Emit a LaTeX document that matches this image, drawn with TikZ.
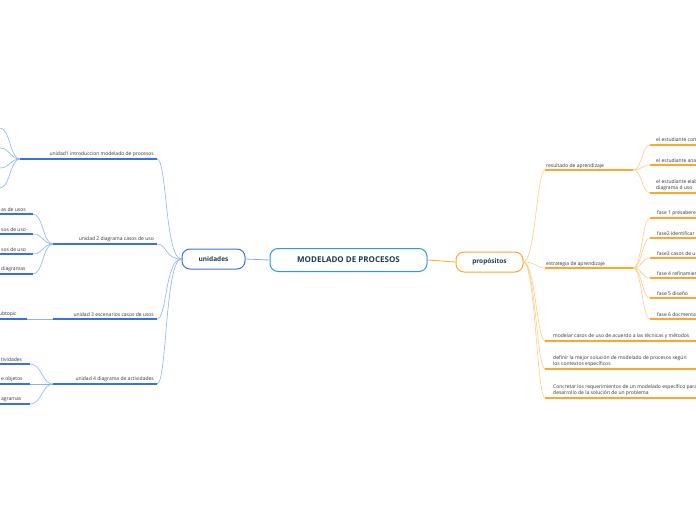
\documentclass[tikz,border=0pt]{standalone}
\usepackage{fontspec}
\setmainfont{Open Sans}
\definecolor{bl}{HTML}{3B6FE8}
\definecolor{lbl}{HTML}{8FB0F8}
\definecolor{or}{HTML}{FFA62E}
\definecolor{lor}{HTML}{FFCB85}
\definecolor{dk}{HTML}{1F3A4D}
\begin{document}
\begin{tikzpicture}[x=1pt,y=-1pt,
  lab/.style={font=\fontsize{5}{6}\selectfont,text=black!80,anchor=south west,inner sep=1pt,align=left},
  bu/.style={bl,line width=1.3pt},
  ou/.style={or,line width=1.3pt},
  bc/.style={lbl,line width=0.6pt},
  oc/.style={lor,line width=0.6pt}]
\useasboundingbox (0,0) rectangle (696,520);
\clip (0,0) rectangle (696,520);
% center
\node[draw=bl!70!cyan,line width=1pt,rounded corners=8pt,minimum width=157pt,minimum height=23pt,font=\bfseries\fontsize{8}{9}\selectfont,text=dk] (c) at (348.5,260) {MODELADO DE PROCESOS};
\node[draw=bl,line width=1pt,rounded corners=8pt,minimum width=63pt,minimum height=20pt,font=\bfseries\fontsize{6.5}{8}\selectfont,text=dk] (u) at (213.5,259) {unidades};
\node[draw=or,line width=1pt,rounded corners=8pt,minimum width=67pt,minimum height=20pt,font=\bfseries\fontsize{6.5}{8}\selectfont,text=dk] (p) at (489.5,262) {propósitos};
\draw[bl!60,line width=0.8pt] (c.west) -- (u.east);
\draw[or,line width=0.8pt] (c.east) -- (p.west);
% left branches
\foreach \n/\y/\xa/\t in {u1/159/20/unidad1 introduccion modelado de procesos,u2/244/53/unidad 2 diagrama casos de uso,u3/319/53/unidad 3 escenarios casos de usos,u4/384/53/unidad 4 diagrama de actividades}{
  \coordinate (\n a) at (\xa,\y); \coordinate (\n b) at (157,\y);
  \draw[bu] (\n a) -- (\n b);
  \draw[bc] (u.west) .. controls (165,259) and (167,\y) .. (\n b);
  \node[lab,anchor=south east] at (155,\y-1) {\t};
}
\foreach \y in {128,148,168,188}{
  \coordinate (q) at (0,\y);
  \draw[bc] (u1a) .. controls (10,159) and (10,\y) .. (q);
}
\foreach \y/\t in {214/as de usos,234/sos de uso,254/sos de uso,274/diagramas}{
  \coordinate (q) at (33,\y);
  \draw[bu] (0,\y) -- (q);
  \draw[bc] (u2a) .. controls (43,244) and (43,\y) .. (q);
  \node[lab] at (0,\y-1) {\t};
}
\coordinate (s3) at (27,319);
\draw[bu] (0,319) -- (s3); \draw[bc,line width=1pt] (s3) -- (u3a);
\node[lab] at (-5,318) {Subtopic};
\foreach \y/\t in {364/tividades,384/e objetos,404/agramas}{
  \coordinate (q) at (30,\y);
  \draw[bu] (0,\y) -- (q);
  \draw[bc] (u4a) .. controls (42,384) and (42,\y) .. (q);
  \node[lab] at (0,\y-1) {\t};
}
% right branches
\foreach \n/\y/\t in {r1/170/resultado de aprendizaje,r2/268/estrategia de aprendizaje}{
  \coordinate (\n a) at (545,\y); \coordinate (\n b) at (633,\y);
  \draw[ou] (\n a) -- (\n b);
  \draw[oc] (p.east) .. controls (535,262) and (537,\y) .. (\n a);
  \node[lab] at (\n a) {\t};
}
\foreach \y/\t in {341/modelar casos de uso de acuerdo a las técnicas y métodos,369/definir la mejor solución de modelado de procesos según\\los contextos específicos,398/Concretar los requerimientos de un modelado específico para el\\desarrollo de la solución de un problema}{
  \coordinate (q) at (545,\y);
  \draw[ou] (q) -- (700,\y);
  \draw[oc] (p.east) .. controls (535,262) and (537,\y) .. (q);
  \node[lab] at (552,\y-1) {\t};
}
\foreach \y/\t in {145/el estudiante comprende,165/el estudiante analiza,193/el estudiante elabora un\\diagrama d uso}{
  \coordinate (q) at (650,\y);
  \draw[ou] (q) -- (700,\y);
  \draw[oc] (r1b) .. controls (642,170) and (642,\y) .. (q);
  \node[lab] at (655,\y-1) {\t};
}
\foreach \y/\t in {218/fase 1 presaberes,238/fase2 Identificar,258/fase3 casos de uso,278/fase 4 refinamiento,298/fase 5 diseño,319/fase 6 docmentación}{
  \coordinate (q) at (650,\y);
  \draw[ou] (q) -- (700,\y);
  \draw[oc] (r2b) .. controls (642,268) and (642,\y) .. (q);
  \node[lab] at (656,\y-1) {\t};
}
\end{tikzpicture}
\end{document}
